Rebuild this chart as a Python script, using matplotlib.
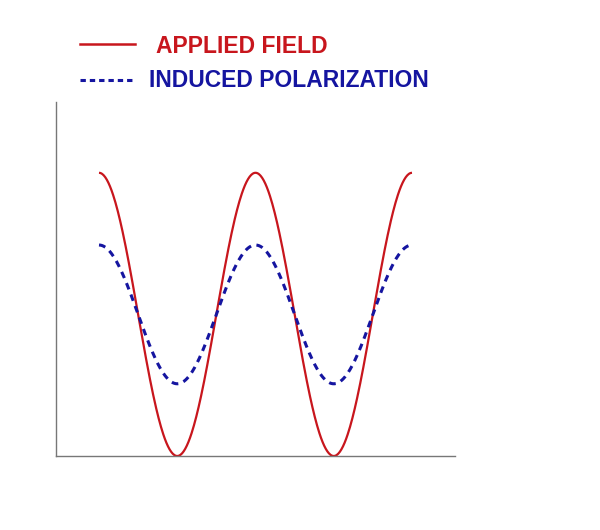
import numpy as np
import matplotlib
matplotlib.use("Agg")
import matplotlib.pyplot as plt
from matplotlib.lines import Line2D

# Data: applied field and induced polarization (sinusoids, in phase)
series_labels = ["APPLIED FIELD", "INDUCED POLARIZATION"]
amplitudes = [1.0, 0.49]
cycles = 2
n_samples = 400

phase = np.linspace(0, 2 * np.pi * cycles, n_samples)
applied = amplitudes[0] * np.cos(phase)
induced = amplitudes[1] * np.cos(phase)

W, H = 600, 530
fig = plt.figure(figsize=(W / 100, H / 100), dpi=100)
ax = fig.add_axes([56 / W, 1 - 456 / H, (455 - 56) / W, (456 - 102) / H])

red = "#c8161d"
blue = "#1515a0"

ax.plot(phase, applied, color=red, lw=1.6, solid_capstyle="butt")
ax.plot(phase, induced, color=blue, lw=2.2, ls=(0, (2.2, 1.8)))

span = 2 * np.pi * cycles
pad = span * 43 / 313
ax.set_xlim(-pad, span + pad)
ax.set_ylim(-1.0, 1.50)
ax.set_xticks([])
ax.set_yticks([])
for s in ["top", "right"]:
    ax.spines[s].set_visible(False)
for s in ["left", "bottom"]:
    ax.spines[s].set_color("#777777")
    ax.spines[s].set_linewidth(1.0)

# Legend drawn in figure coordinates
def fx(px):
    return px / W

def fy(py):
    return 1 - py / H

fig.add_artist(Line2D([fx(80), fx(135)], [fy(44), fy(44)], color=red, lw=1.8,
                      transform=fig.transFigure))
fig.add_artist(Line2D([fx(80), fx(132)], [fy(80), fy(80)], color=blue, lw=2.2,
                      ls=(0, (1.75, 1.3)), transform=fig.transFigure))
fig.text(fx(156), fy(53.3), series_labels[0], color=red, fontsize=16.5,
         fontweight="bold", family="Liberation Sans", va="baseline", ha="left")
fig.text(fx(149), fy(86.7), series_labels[1], color=blue, fontsize=16.5,
         fontweight="bold", family="Liberation Sans", va="baseline", ha="left")

fig.savefig("out.png", dpi=100, facecolor="white")
